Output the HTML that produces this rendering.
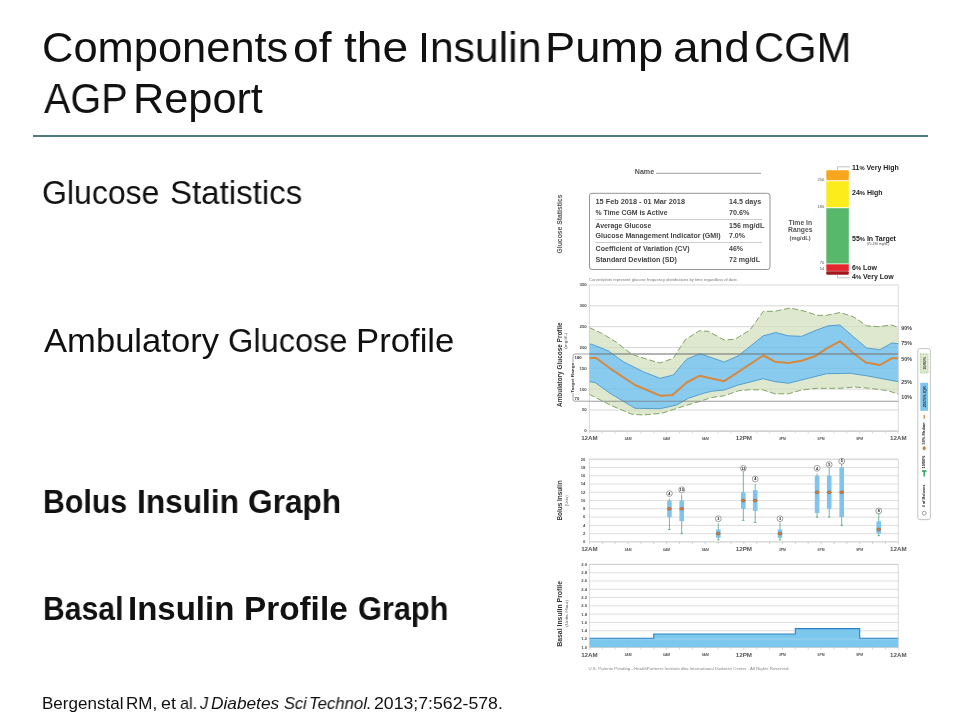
<!DOCTYPE html>
<html><head><meta charset="utf-8">
<style>
html,body{margin:0;padding:0;background:#fff;}
body{width:960px;height:720px;position:relative;overflow:hidden;font-family:"Liberation Sans",sans-serif;color:#111;}
.t{position:absolute;white-space:nowrap;transform-origin:0 0;will-change:transform;}
#rule{position:absolute;left:33px;top:135px;width:895px;height:2px;background:#4d7a7c;}
svg{position:absolute;left:0;top:0;}
svg text{font-family:"Liberation Sans",sans-serif;}
</style></head><body>
<div id="rule"></div>
<div class="t" style="left:42.18px;top:25.6px;font-size:43px;line-height:43px;transform:scaleX(1.0104);">Components</div>
<div class="t" style="left:292.95px;top:25.6px;font-size:43px;line-height:43px;transform:scaleX(1.0737);">of</div>
<div class="t" style="left:343.93px;top:25.6px;font-size:43px;line-height:43px;transform:scaleX(1.0737);">the</div>
<div class="t" style="left:417.83px;top:25.6px;font-size:43px;line-height:43px;transform:scaleX(0.9932);">Insulin</div>
<div class="t" style="left:545.49px;top:25.6px;font-size:43px;line-height:43px;transform:scaleX(1.0514);">Pump</div>
<div class="t" style="left:672.76px;top:25.6px;font-size:43px;line-height:43px;transform:scaleX(1.0701);">and</div>
<div class="t" style="left:754.07px;top:25.6px;font-size:43px;line-height:43px;transform:scaleX(0.9714);">CGM</div>
<div class="t" style="left:43.6px;top:77.1px;font-size:43px;line-height:43px;transform:scaleX(0.9198);">AGP</div>
<div class="t" style="left:132.97px;top:77.1px;font-size:43px;line-height:43px;transform:scaleX(1.0064);">Report</div>
<div class="t" style="left:42.32px;top:174.8px;font-size:34px;line-height:34px;transform:scaleX(0.9413);">Glucose</div>
<div class="t" style="left:170.26px;top:174.8px;font-size:34px;line-height:34px;transform:scaleX(0.9722);">Statistics</div>
<div class="t" style="left:43.5px;top:322.8px;font-size:34px;line-height:34px;transform:scaleX(1.0174);">Ambulatory</div>
<div class="t" style="left:228.38px;top:322.8px;font-size:34px;line-height:34px;transform:scaleX(0.9579);">Glucose</div>
<div class="t" style="left:356.24px;top:322.8px;font-size:34px;line-height:34px;transform:scaleX(1.0207);">Profile</div>
<div class="t" style="left:42.96px;top:484.6px;font-size:33px;line-height:33px;font-weight:bold;transform:scaleX(0.9182);">Bolus</div>
<div class="t" style="left:136.58px;top:484.6px;font-size:33px;line-height:33px;font-weight:bold;transform:scaleX(0.9588);">Insulin</div>
<div class="t" style="left:248.24px;top:484.6px;font-size:33px;line-height:33px;font-weight:bold;transform:scaleX(0.9585);">Graph</div>
<div class="t" style="left:42.57px;top:591.5px;font-size:33px;line-height:33px;font-weight:bold;transform:scaleX(0.9132);">Basal</div>
<div class="t" style="left:127.7px;top:591.5px;font-size:33px;line-height:33px;font-weight:bold;">Insulin</div>
<div class="t" style="left:244.06px;top:591.5px;font-size:33px;line-height:33px;font-weight:bold;transform:scaleX(1.0094);">Profile</div>
<div class="t" style="left:357.57px;top:591.5px;font-size:33px;line-height:33px;font-weight:bold;transform:scaleX(0.9309);">Graph</div>
<div class="t" style="left:42.0px;top:695.0px;font-size:17px;line-height:17px;transform:scaleX(1.0025);">Bergenstal</div>
<div class="t" style="left:125.6px;top:695.0px;font-size:17px;line-height:17px;transform:scaleX(0.9966);">RM,</div>
<div class="t" style="left:160.64px;top:695.0px;font-size:17px;line-height:17px;transform:scaleX(1.0548);">et</div>
<div class="t" style="left:180.46px;top:695.0px;font-size:17px;line-height:17px;transform:scaleX(0.9544);">al.</div>
<div class="t" style="left:200.46px;top:695.0px;font-size:17px;line-height:17px;font-style:italic;transform:scaleX(0.9544);">J</div>
<div class="t" style="left:211.48px;top:695.0px;font-size:17px;line-height:17px;font-style:italic;transform:scaleX(1.0152);">Diabetes</div>
<div class="t" style="left:283.73px;top:695.0px;font-size:17px;line-height:17px;font-style:italic;transform:scaleX(0.9652);">Sci</div>
<div class="t" style="left:308.84px;top:695.0px;font-size:17px;line-height:17px;font-style:italic;transform:scaleX(0.9825);">Technol</div>
<div class="t" style="left:365.86px;top:695.0px;font-size:17px;line-height:17px;transform:scaleX(1.0548);">.</div>
<div class="t" style="left:373.56px;top:695.0px;font-size:17px;line-height:17px;transform:scaleX(1.0405);">2013;7:562-578.</div>
<svg width="960" height="720" viewBox="0 0 960 720" font-family="Liberation Sans, sans-serif">
<text x="634.8" y="173.9" font-size="6.6" font-weight="bold" fill="#555" textLength="19.3" lengthAdjust="spacingAndGlyphs">Name</text>
<line x1="656" y1="173.3" x2="761" y2="173.3" stroke="#777" stroke-width="0.7"/>
<text transform="translate(561.5,224) rotate(-90)" text-anchor="middle" font-size="6.8" font-weight="bold" fill="#555">Glucose Statistics</text>
<rect x="589.5" y="193.3" width="180.5" height="76.2" rx="2.5" fill="none" stroke="#888" stroke-width="0.9"/>
<text x="595.5" y="203.9" font-size="7.2" font-weight="bold" fill="#444" textLength="89.5" lengthAdjust="spacingAndGlyphs">15 Feb 2018 - 01 Mar 2018</text>
<text x="729" y="203.9" font-size="7.2" font-weight="bold" fill="#444" textLength="32.25" lengthAdjust="spacingAndGlyphs">14.5 days</text>
<text x="595.5" y="214.9" font-size="7.2" font-weight="bold" fill="#444" textLength="72" lengthAdjust="spacingAndGlyphs">% Time CGM is Active</text>
<text x="729" y="214.9" font-size="7.2" font-weight="bold" fill="#444" textLength="20.5" lengthAdjust="spacingAndGlyphs">70.6%</text>
<text x="595.5" y="227.9" font-size="7.2" font-weight="bold" fill="#444" textLength="55.75" lengthAdjust="spacingAndGlyphs">Average Glucose</text>
<text x="729" y="227.9" font-size="7.2" font-weight="bold" fill="#444" textLength="35.25" lengthAdjust="spacingAndGlyphs">156 mg/dL</text>
<text x="595.5" y="238.1" font-size="7.2" font-weight="bold" fill="#444" textLength="125" lengthAdjust="spacingAndGlyphs">Glucose Management Indicator (GMI)</text>
<text x="729" y="238.1" font-size="7.2" font-weight="bold" fill="#444" textLength="16" lengthAdjust="spacingAndGlyphs">7.0%</text>
<text x="595.5" y="251.4" font-size="7.2" font-weight="bold" fill="#444" textLength="94" lengthAdjust="spacingAndGlyphs">Coefficient of Variation (CV)</text>
<text x="729" y="251.4" font-size="7.2" font-weight="bold" fill="#444" textLength="14" lengthAdjust="spacingAndGlyphs">46%</text>
<text x="595.5" y="262.4" font-size="7.2" font-weight="bold" fill="#444" textLength="81.5" lengthAdjust="spacingAndGlyphs">Standard Deviation (SD)</text>
<text x="729" y="262.4" font-size="7.2" font-weight="bold" fill="#444" textLength="31" lengthAdjust="spacingAndGlyphs">72 mg/dL</text>
<line x1="595.5" y1="219.5" x2="762" y2="219.5" stroke="#aaa" stroke-width="0.6"/>
<line x1="595.5" y1="242.5" x2="762" y2="242.5" stroke="#aaa" stroke-width="0.6"/>
<text x="589" y="281" font-size="3.4" fill="#777" textLength="149" lengthAdjust="spacingAndGlyphs">Curves/plots represent glucose frequency distributions by time regardless of date.</text>
<rect x="826.3" y="170.3" width="22.5" height="10" fill="#f7a71d" rx="1"/>
<rect x="826.3" y="181.2" width="22.5" height="26" fill="#fdec1c"/>
<rect x="826.3" y="208.2" width="22.5" height="55.3" fill="#57b86b"/>
<rect x="826.3" y="264.3" width="22.5" height="6.6" fill="#e3262d"/>
<rect x="826.3" y="271.3" width="22.5" height="3.5" fill="#a3171d" rx="1"/>
<path d="M837.5 170 V166.8 H850" fill="none" stroke="#999" stroke-width="0.6"/>
<path d="M837.5 274.8 V277.8 H850" fill="none" stroke="#999" stroke-width="0.6"/>
<text x="824.2" y="181.2" font-size="4" fill="#555" text-anchor="end">250</text>
<text x="824.2" y="207.8" font-size="4" fill="#555" text-anchor="end">180</text>
<text x="824.2" y="263.9" font-size="4" fill="#555" text-anchor="end">70</text>
<text x="824.2" y="270.3" font-size="4" fill="#555" text-anchor="end">54</text>
<text x="800.3" y="225.4" font-size="6.5" font-weight="bold" fill="#555" text-anchor="middle" textLength="23.8" lengthAdjust="spacingAndGlyphs">Time In</text>
<text x="800.3" y="231.9" font-size="6.5" font-weight="bold" fill="#555" text-anchor="middle" textLength="24.4" lengthAdjust="spacingAndGlyphs">Ranges</text>
<text x="800.1" y="239.9" font-size="5.4" font-weight="bold" fill="#555" text-anchor="middle" textLength="21.2" lengthAdjust="spacingAndGlyphs">(mg/dL)</text>
<text x="852" y="170.1" font-size="7" font-weight="bold" fill="#222">11<tspan font-size="5.8">%</tspan> Very High</text>
<text x="852" y="194.6" font-size="7" font-weight="bold" fill="#222">24<tspan font-size="5.8">%</tspan> High</text>
<text x="852" y="240.6" font-size="7" font-weight="bold" fill="#222">55<tspan font-size="5.8">%</tspan> In Target</text>
<text x="866.7" y="245.2" font-size="3.3" fill="#555">(70-180 mg/dL)</text>
<text x="852" y="270.1" font-size="7" font-weight="bold" fill="#222">6<tspan font-size="5.8">%</tspan> Low</text>
<text x="852" y="279.3" font-size="7" font-weight="bold" fill="#222">4<tspan font-size="5.8">%</tspan> Very Low</text>
<line x1="589.4" y1="430.8" x2="898.3" y2="430.8" stroke="#dcdcdc" stroke-width="0.9"/>
<text x="586.8" y="432.3" font-size="4.4" font-weight="bold" fill="#4a4a4a" text-anchor="end">0</text>
<line x1="589.4" y1="409.97" x2="898.3" y2="409.97" stroke="#dcdcdc" stroke-width="0.9"/>
<text x="586.8" y="411.47" font-size="4.4" font-weight="bold" fill="#4a4a4a" text-anchor="end">50</text>
<line x1="589.4" y1="389.14" x2="898.3" y2="389.14" stroke="#dcdcdc" stroke-width="0.9"/>
<text x="586.8" y="390.64" font-size="4.4" font-weight="bold" fill="#4a4a4a" text-anchor="end">100</text>
<line x1="589.4" y1="368.31" x2="898.3" y2="368.31" stroke="#dcdcdc" stroke-width="0.9"/>
<text x="586.8" y="369.81" font-size="4.4" font-weight="bold" fill="#4a4a4a" text-anchor="end">150</text>
<line x1="589.4" y1="347.48" x2="898.3" y2="347.48" stroke="#dcdcdc" stroke-width="0.9"/>
<text x="586.8" y="348.98" font-size="4.4" font-weight="bold" fill="#4a4a4a" text-anchor="end">200</text>
<line x1="589.4" y1="326.65" x2="898.3" y2="326.65" stroke="#dcdcdc" stroke-width="0.9"/>
<text x="586.8" y="328.15" font-size="4.4" font-weight="bold" fill="#4a4a4a" text-anchor="end">250</text>
<line x1="589.4" y1="305.82" x2="898.3" y2="305.82" stroke="#dcdcdc" stroke-width="0.9"/>
<text x="586.8" y="307.32" font-size="4.4" font-weight="bold" fill="#4a4a4a" text-anchor="end">300</text>
<line x1="589.4" y1="284.99" x2="898.3" y2="284.99" stroke="#dcdcdc" stroke-width="0.9"/>
<text x="586.8" y="286.49" font-size="4.4" font-weight="bold" fill="#4a4a4a" text-anchor="end">350</text>
<polygon points="589.2,327.5 601.7,333.3 616.7,342.5 631.7,354.2 646.7,359.2 660,363 673.3,358.3 685,340 699.2,330.8 708.3,331.3 715,335 724.2,340 735,339.2 750,330 763.3,311.3 775,311.3 790,308 805,311.3 816.7,315.3 826.7,315.3 840,312.5 853.3,316.7 866.7,325.8 878.3,326.7 891.7,325 898.3,327.5 898.3,394.2 888.3,390.8 870,388.3 855,387 840,388.3 816.7,388.3 801.7,390 788.3,393.8 775,393.8 763.3,390 750,389.7 738.3,390.8 724.2,395.8 711.7,397.5 701.7,400.8 685,405.8 661.7,413.3 643.3,415 631.7,414.2 610,405 589.2,394.2" fill="#dde8cf"/>
<polygon points="589.2,344.2 591.7,344.2 608.3,350.8 623.3,361.7 643.3,371.7 660,378.3 673.3,375 686.7,359.2 700,353.7 724.2,362 738.3,355.8 763.3,335.8 775.8,332.5 788.3,335.8 801.7,336.3 816.7,330 828.3,325.8 840,325 853.3,336.7 866.7,348 880,349.7 891.7,343 898.3,343.7 898.3,381.7 880,378.3 866.7,375.8 850,373.3 826.7,373.7 801.7,380 788.3,383.3 775,381.7 763.3,378.7 738.3,385 724.2,390 711.7,391.3 703.3,393.3 688.3,398.3 676.7,405 660,408.7 635,408.3 610,393.3 595,382.5 589.2,381.7" fill="#89cbef"/>
<line x1="589.4" y1="409.97" x2="898.3" y2="409.97" stroke="#000" stroke-opacity="0.05" stroke-width="0.9"/>
<line x1="589.4" y1="389.14" x2="898.3" y2="389.14" stroke="#000" stroke-opacity="0.05" stroke-width="0.9"/>
<line x1="589.4" y1="368.31" x2="898.3" y2="368.31" stroke="#000" stroke-opacity="0.05" stroke-width="0.9"/>
<line x1="589.4" y1="347.48" x2="898.3" y2="347.48" stroke="#000" stroke-opacity="0.05" stroke-width="0.9"/>
<line x1="589.4" y1="326.65" x2="898.3" y2="326.65" stroke="#000" stroke-opacity="0.05" stroke-width="0.9"/>
<line x1="589.4" y1="305.82" x2="898.3" y2="305.82" stroke="#000" stroke-opacity="0.05" stroke-width="0.9"/>
<line x1="589.4" y1="284.99" x2="898.3" y2="284.99" stroke="#000" stroke-opacity="0.05" stroke-width="0.9"/>
<polyline points="589.2,327.5 601.7,333.3 616.7,342.5 631.7,354.2 646.7,359.2 660,363 673.3,358.3 685,340 699.2,330.8 708.3,331.3 715,335 724.2,340 735,339.2 750,330 763.3,311.3 775,311.3 790,308 805,311.3 816.7,315.3 826.7,315.3 840,312.5 853.3,316.7 866.7,325.8 878.3,326.7 891.7,325 898.3,327.5" fill="none" stroke="#84a366" stroke-width="1" stroke-dasharray="6,2.6"/>
<polyline points="589.2,394.2 610,405 631.7,414.2 643.3,415 661.7,413.3 685,405.8 701.7,400.8 711.7,397.5 724.2,395.8 738.3,390.8 750,389.7 763.3,390 775,393.8 788.3,393.8 801.7,390 816.7,388.3 840,388.3 855,387 870,388.3 888.3,390.8 898.3,394.2" fill="none" stroke="#84a366" stroke-width="1" stroke-dasharray="6,2.6"/>
<polyline points="589.2,344.2 591.7,344.2 608.3,350.8 623.3,361.7 643.3,371.7 660,378.3 673.3,375 686.7,359.2 700,353.7 724.2,362 738.3,355.8 763.3,335.8 775.8,332.5 788.3,335.8 801.7,336.3 816.7,330 828.3,325.8 840,325 853.3,336.7 866.7,348 880,349.7 891.7,343 898.3,343.7" fill="none" stroke="#3f8fc6" stroke-width="0.8"/>
<polyline points="589.2,381.7 595,382.5 610,393.3 635,408.3 660,408.7 676.7,405 688.3,398.3 703.3,393.3 711.7,391.3 724.2,390 738.3,385 763.3,378.7 775,381.7 788.3,383.3 801.7,380 826.7,373.7 850,373.3 866.7,375.8 880,378.3 898.3,381.7" fill="none" stroke="#3f8fc6" stroke-width="0.8"/>
<polyline points="589.2,358.3 595.8,357.8 610,368.3 635,385 660.8,395.8 672.5,395 686.7,382.5 699.2,375.8 724.2,381.2 763.3,355.5 775,361.7 788.3,363 801.7,360.8 815,356.3 826.7,348.3 840,341.3 853.3,353.3 865.8,362.5 880,365 891.7,358.3 898.3,358.3" fill="none" stroke="#d6883f" stroke-width="2" stroke-linejoin="round"/>
<line x1="589.4" y1="285" x2="589.4" y2="431.5" stroke="#c8c8c8" stroke-width="0.7"/>
<line x1="898.3" y1="285" x2="898.3" y2="431.5" stroke="#c8c8c8" stroke-width="0.7"/>
<line x1="589.4" y1="431.3" x2="898.3" y2="431.3" stroke="#bbb" stroke-width="0.8"/>
<line x1="589.4" y1="431.3" x2="589.4" y2="433.6" stroke="#bbb" stroke-width="0.5"/>
<line x1="602.27" y1="431.3" x2="602.27" y2="433.6" stroke="#bbb" stroke-width="0.5"/>
<line x1="615.14" y1="431.3" x2="615.14" y2="433.6" stroke="#bbb" stroke-width="0.5"/>
<line x1="628.01" y1="431.3" x2="628.01" y2="433.6" stroke="#bbb" stroke-width="0.5"/>
<line x1="640.88" y1="431.3" x2="640.88" y2="433.6" stroke="#bbb" stroke-width="0.5"/>
<line x1="653.75" y1="431.3" x2="653.75" y2="433.6" stroke="#bbb" stroke-width="0.5"/>
<line x1="666.62" y1="431.3" x2="666.62" y2="433.6" stroke="#bbb" stroke-width="0.5"/>
<line x1="679.5" y1="431.3" x2="679.5" y2="433.6" stroke="#bbb" stroke-width="0.5"/>
<line x1="692.37" y1="431.3" x2="692.37" y2="433.6" stroke="#bbb" stroke-width="0.5"/>
<line x1="705.24" y1="431.3" x2="705.24" y2="433.6" stroke="#bbb" stroke-width="0.5"/>
<line x1="718.11" y1="431.3" x2="718.11" y2="433.6" stroke="#bbb" stroke-width="0.5"/>
<line x1="730.98" y1="431.3" x2="730.98" y2="433.6" stroke="#bbb" stroke-width="0.5"/>
<line x1="743.85" y1="431.3" x2="743.85" y2="433.6" stroke="#bbb" stroke-width="0.5"/>
<line x1="756.72" y1="431.3" x2="756.72" y2="433.6" stroke="#bbb" stroke-width="0.5"/>
<line x1="769.59" y1="431.3" x2="769.59" y2="433.6" stroke="#bbb" stroke-width="0.5"/>
<line x1="782.46" y1="431.3" x2="782.46" y2="433.6" stroke="#bbb" stroke-width="0.5"/>
<line x1="795.33" y1="431.3" x2="795.33" y2="433.6" stroke="#bbb" stroke-width="0.5"/>
<line x1="808.2" y1="431.3" x2="808.2" y2="433.6" stroke="#bbb" stroke-width="0.5"/>
<line x1="821.07" y1="431.3" x2="821.07" y2="433.6" stroke="#bbb" stroke-width="0.5"/>
<line x1="833.95" y1="431.3" x2="833.95" y2="433.6" stroke="#bbb" stroke-width="0.5"/>
<line x1="846.82" y1="431.3" x2="846.82" y2="433.6" stroke="#bbb" stroke-width="0.5"/>
<line x1="859.69" y1="431.3" x2="859.69" y2="433.6" stroke="#bbb" stroke-width="0.5"/>
<line x1="872.56" y1="431.3" x2="872.56" y2="433.6" stroke="#bbb" stroke-width="0.5"/>
<line x1="885.43" y1="431.3" x2="885.43" y2="433.6" stroke="#bbb" stroke-width="0.5"/>
<line x1="898.3" y1="431.3" x2="898.3" y2="433.6" stroke="#bbb" stroke-width="0.5"/>
<path d="M589.4 354 H575 Q573 354 573 356 V399.2 Q573 401.2 575 401.2 H589.4" fill="none" stroke="#999" stroke-width="0.9"/>
<line x1="589.4" y1="354" x2="898.3" y2="354" stroke="#7a7a7a" stroke-opacity="0.75" stroke-width="1.3"/>
<line x1="589.4" y1="401.2" x2="898.3" y2="401.2" stroke="#7a7a7a" stroke-opacity="0.75" stroke-width="1.1"/>
<rect x="574.2" y="355.6" width="9" height="3.6" fill="#fff"/>
<text x="574.5" y="359.1" font-size="4.3" font-weight="bold" fill="#333">180</text>
<rect x="574.2" y="396.4" width="6" height="3.6" fill="#fff"/>
<text x="574.5" y="399.8" font-size="4.3" font-weight="bold" fill="#333">70</text>
<rect x="570.8" y="362.4" width="4.4" height="30.6" fill="#fff"/>
<text transform="translate(574.2,377.7) rotate(-90)" text-anchor="middle" font-size="4.3" font-weight="bold" fill="#333" textLength="30" lengthAdjust="spacingAndGlyphs">Target Range</text>
<text transform="translate(562.1,364.7) rotate(-90)" text-anchor="middle" font-size="6.8" font-weight="bold" fill="#333" textLength="84.6" lengthAdjust="spacingAndGlyphs">Ambulatory Glucose Profile</text>
<text transform="translate(567.2,340.7) rotate(-90)" text-anchor="middle" font-size="3.6" fill="#555" textLength="16" lengthAdjust="spacingAndGlyphs">(mg/dL)</text>
<text x="901.3" y="329.6" font-size="5" font-weight="bold" fill="#444" textLength="10.6" lengthAdjust="spacingAndGlyphs">90%</text>
<text x="901.3" y="345" font-size="5" font-weight="bold" fill="#444" textLength="10.6" lengthAdjust="spacingAndGlyphs">75%</text>
<text x="901.3" y="360.8" font-size="5" font-weight="bold" fill="#444" textLength="10.6" lengthAdjust="spacingAndGlyphs">50%</text>
<text x="901.3" y="383.9" font-size="5" font-weight="bold" fill="#444" textLength="10.6" lengthAdjust="spacingAndGlyphs">25%</text>
<text x="901.3" y="398.8" font-size="5" font-weight="bold" fill="#444" textLength="10.6" lengthAdjust="spacingAndGlyphs">10%</text>
<text x="589.4" y="440.1" font-size="6.2" font-weight="bold" fill="#555" text-anchor="middle">12AM</text>
<text x="628.01" y="439.5" font-size="3.4" font-weight="bold" fill="#555" text-anchor="middle">3AM</text>
<text x="666.62" y="439.5" font-size="3.4" font-weight="bold" fill="#555" text-anchor="middle">6AM</text>
<text x="705.24" y="439.5" font-size="3.4" font-weight="bold" fill="#555" text-anchor="middle">9AM</text>
<text x="743.85" y="440.1" font-size="6.2" font-weight="bold" fill="#555" text-anchor="middle">12PM</text>
<text x="782.46" y="439.5" font-size="3.4" font-weight="bold" fill="#555" text-anchor="middle">3PM</text>
<text x="821.07" y="439.5" font-size="3.4" font-weight="bold" fill="#555" text-anchor="middle">6PM</text>
<text x="859.69" y="439.5" font-size="3.4" font-weight="bold" fill="#555" text-anchor="middle">9PM</text>
<text x="898.3" y="440.1" font-size="6.2" font-weight="bold" fill="#555" text-anchor="middle">12AM</text>
<rect x="917.8" y="348.6" width="12.6" height="171" rx="2" fill="#fff" stroke="#aaa" stroke-width="0.7"/>
<rect x="920.3" y="353.8" width="7.8" height="19.2" fill="#dde8cf" stroke="#8cb864" stroke-width="0.6" stroke-dasharray="1.5,1"/>
<text transform="translate(925.8,363.4) rotate(-90)" text-anchor="middle" font-size="3.8" font-weight="bold" fill="#444">10/90%</text>
<rect x="920.3" y="382.8" width="7.8" height="28" fill="#7ec4ec"/>
<text transform="translate(925.8,396.8) rotate(-90)" text-anchor="middle" font-size="3.8" font-weight="bold" fill="#234">25/75%-IQR</text>
<line x1="924.2" y1="415" x2="924.2" y2="418.8" stroke="#d9813a" stroke-width="1.3"/>
<text transform="translate(925.4,433.5) rotate(-90)" text-anchor="middle" font-size="3.8" font-weight="bold" fill="#222">50%-Median</text>
<ellipse cx="924.2" cy="448.3" rx="1.3" ry="1.8" fill="#d9813a" stroke="#a85d22" stroke-width="0.4"/>
<text transform="translate(925.4,462) rotate(-90)" text-anchor="middle" font-size="3.8" font-weight="bold" fill="#222">10/90%</text>
<path d="M924.2 470.4 V476.6 M922 471 H926.4" stroke="#2a955a" stroke-width="1.4" fill="none"/>
<text transform="translate(925.4,496) rotate(-90)" text-anchor="middle" font-size="3.8" font-weight="bold" fill="#222"># of Boluses</text>
<circle cx="924.2" cy="513.2" r="2" fill="#fff" stroke="#777" stroke-width="0.7"/>
<line x1="589.4" y1="541.9" x2="898.3" y2="541.9" stroke="#bbb" stroke-width="0.8"/>
<text x="585.4" y="543.3" font-size="4.1" font-weight="bold" fill="#4a4a4a" text-anchor="end">0</text>
<line x1="589.4" y1="533.63" x2="898.3" y2="533.63" stroke="#d6d6d6" stroke-width="0.8"/>
<text x="585.4" y="535.03" font-size="4.1" font-weight="bold" fill="#4a4a4a" text-anchor="end">2</text>
<line x1="589.4" y1="525.36" x2="898.3" y2="525.36" stroke="#d6d6d6" stroke-width="0.8"/>
<text x="585.4" y="526.76" font-size="4.1" font-weight="bold" fill="#4a4a4a" text-anchor="end">4</text>
<line x1="589.4" y1="517.09" x2="898.3" y2="517.09" stroke="#d6d6d6" stroke-width="0.8"/>
<text x="585.4" y="518.49" font-size="4.1" font-weight="bold" fill="#4a4a4a" text-anchor="end">6</text>
<line x1="589.4" y1="508.82" x2="898.3" y2="508.82" stroke="#d6d6d6" stroke-width="0.8"/>
<text x="585.4" y="510.22" font-size="4.1" font-weight="bold" fill="#4a4a4a" text-anchor="end">8</text>
<line x1="589.4" y1="500.55" x2="898.3" y2="500.55" stroke="#d6d6d6" stroke-width="0.8"/>
<text x="585.4" y="501.95" font-size="4.1" font-weight="bold" fill="#4a4a4a" text-anchor="end">10</text>
<line x1="589.4" y1="492.28" x2="898.3" y2="492.28" stroke="#d6d6d6" stroke-width="0.8"/>
<text x="585.4" y="493.68" font-size="4.1" font-weight="bold" fill="#4a4a4a" text-anchor="end">12</text>
<line x1="589.4" y1="484.01" x2="898.3" y2="484.01" stroke="#d6d6d6" stroke-width="0.8"/>
<text x="585.4" y="485.41" font-size="4.1" font-weight="bold" fill="#4a4a4a" text-anchor="end">14</text>
<line x1="589.4" y1="475.74" x2="898.3" y2="475.74" stroke="#d6d6d6" stroke-width="0.8"/>
<text x="585.4" y="477.14" font-size="4.1" font-weight="bold" fill="#4a4a4a" text-anchor="end">16</text>
<line x1="589.4" y1="467.47" x2="898.3" y2="467.47" stroke="#d6d6d6" stroke-width="0.8"/>
<text x="585.4" y="468.87" font-size="4.1" font-weight="bold" fill="#4a4a4a" text-anchor="end">18</text>
<line x1="589.4" y1="459.2" x2="898.3" y2="459.2" stroke="#bbb" stroke-width="0.8"/>
<text x="585.4" y="460.6" font-size="4.1" font-weight="bold" fill="#4a4a4a" text-anchor="end">20</text>
<line x1="589.4" y1="459.2" x2="589.4" y2="541.9" stroke="#c8c8c8" stroke-width="0.7"/>
<line x1="898.3" y1="459.2" x2="898.3" y2="541.9" stroke="#c8c8c8" stroke-width="0.7"/>
<line x1="589.4" y1="541.9" x2="589.4" y2="544.1" stroke="#aaa" stroke-width="0.5"/>
<line x1="602.27" y1="541.9" x2="602.27" y2="544.1" stroke="#aaa" stroke-width="0.5"/>
<line x1="615.14" y1="541.9" x2="615.14" y2="544.1" stroke="#aaa" stroke-width="0.5"/>
<line x1="628.01" y1="541.9" x2="628.01" y2="544.1" stroke="#aaa" stroke-width="0.5"/>
<line x1="640.88" y1="541.9" x2="640.88" y2="544.1" stroke="#aaa" stroke-width="0.5"/>
<line x1="653.75" y1="541.9" x2="653.75" y2="544.1" stroke="#aaa" stroke-width="0.5"/>
<line x1="666.62" y1="541.9" x2="666.62" y2="544.1" stroke="#aaa" stroke-width="0.5"/>
<line x1="679.5" y1="541.9" x2="679.5" y2="544.1" stroke="#aaa" stroke-width="0.5"/>
<line x1="692.37" y1="541.9" x2="692.37" y2="544.1" stroke="#aaa" stroke-width="0.5"/>
<line x1="705.24" y1="541.9" x2="705.24" y2="544.1" stroke="#aaa" stroke-width="0.5"/>
<line x1="718.11" y1="541.9" x2="718.11" y2="544.1" stroke="#aaa" stroke-width="0.5"/>
<line x1="730.98" y1="541.9" x2="730.98" y2="544.1" stroke="#aaa" stroke-width="0.5"/>
<line x1="743.85" y1="541.9" x2="743.85" y2="544.1" stroke="#aaa" stroke-width="0.5"/>
<line x1="756.72" y1="541.9" x2="756.72" y2="544.1" stroke="#aaa" stroke-width="0.5"/>
<line x1="769.59" y1="541.9" x2="769.59" y2="544.1" stroke="#aaa" stroke-width="0.5"/>
<line x1="782.46" y1="541.9" x2="782.46" y2="544.1" stroke="#aaa" stroke-width="0.5"/>
<line x1="795.33" y1="541.9" x2="795.33" y2="544.1" stroke="#aaa" stroke-width="0.5"/>
<line x1="808.2" y1="541.9" x2="808.2" y2="544.1" stroke="#aaa" stroke-width="0.5"/>
<line x1="821.07" y1="541.9" x2="821.07" y2="544.1" stroke="#aaa" stroke-width="0.5"/>
<line x1="833.95" y1="541.9" x2="833.95" y2="544.1" stroke="#aaa" stroke-width="0.5"/>
<line x1="846.82" y1="541.9" x2="846.82" y2="544.1" stroke="#aaa" stroke-width="0.5"/>
<line x1="859.69" y1="541.9" x2="859.69" y2="544.1" stroke="#aaa" stroke-width="0.5"/>
<line x1="872.56" y1="541.9" x2="872.56" y2="544.1" stroke="#aaa" stroke-width="0.5"/>
<line x1="885.43" y1="541.9" x2="885.43" y2="544.1" stroke="#aaa" stroke-width="0.5"/>
<line x1="898.3" y1="541.9" x2="898.3" y2="544.1" stroke="#aaa" stroke-width="0.5"/>
<line x1="669.4" y1="529.5" x2="669.4" y2="498.48" stroke="#3a9a6a" stroke-width="0.7"/>
<line x1="668.2" y1="529.5" x2="670.6" y2="529.5" stroke="#3a9a6a" stroke-width="0.7"/>
<rect x="667.1" y="500.55" width="4.6" height="16.54" fill="#7ec4ec"/>
<ellipse cx="669.4" cy="508.82" rx="2" ry="1.35" fill="#d9813a" stroke="#8a5020" stroke-width="0.5"/>
<circle cx="669.4" cy="493.52" r="2.9" fill="#fff" stroke="#444" stroke-width="0.5"/>
<text x="669.4" y="494.72" font-size="3.8" font-weight="bold" fill="#222" text-anchor="middle">4</text>
<line x1="681.7" y1="533.63" x2="681.7" y2="494.35" stroke="#3a9a6a" stroke-width="0.7"/>
<line x1="680.5" y1="533.63" x2="682.9" y2="533.63" stroke="#3a9a6a" stroke-width="0.7"/>
<rect x="679.4" y="500.55" width="4.6" height="20.68" fill="#7ec4ec"/>
<ellipse cx="681.7" cy="508.82" rx="2" ry="1.35" fill="#d9813a" stroke="#8a5020" stroke-width="0.5"/>
<circle cx="681.7" cy="489.8" r="2.9" fill="#fff" stroke="#444" stroke-width="0.5"/>
<text x="681.7" y="491" font-size="3.8" font-weight="bold" fill="#222" text-anchor="middle">10</text>
<line x1="718.3" y1="539.83" x2="718.3" y2="523.29" stroke="#3a9a6a" stroke-width="0.7"/>
<line x1="717.1" y1="539.83" x2="719.5" y2="539.83" stroke="#3a9a6a" stroke-width="0.7"/>
<rect x="716" y="529.5" width="4.6" height="8.27" fill="#7ec4ec"/>
<ellipse cx="718.3" cy="533.63" rx="2" ry="1.35" fill="#d9813a" stroke="#8a5020" stroke-width="0.5"/>
<circle cx="718.3" cy="518.74" r="2.9" fill="#fff" stroke="#444" stroke-width="0.5"/>
<text x="718.3" y="519.94" font-size="3.8" font-weight="bold" fill="#222" text-anchor="middle">3</text>
<line x1="743.3" y1="520.4" x2="743.3" y2="471.6" stroke="#3a9a6a" stroke-width="0.7"/>
<line x1="742.1" y1="520.4" x2="744.5" y2="520.4" stroke="#3a9a6a" stroke-width="0.7"/>
<rect x="741" y="492.28" width="4.6" height="16.54" fill="#7ec4ec"/>
<ellipse cx="743.3" cy="500.55" rx="2" ry="1.35" fill="#d9813a" stroke="#8a5020" stroke-width="0.5"/>
<circle cx="743.3" cy="468.3" r="2.9" fill="#fff" stroke="#444" stroke-width="0.5"/>
<text x="743.3" y="469.5" font-size="3.8" font-weight="bold" fill="#222" text-anchor="middle">12</text>
<line x1="755.2" y1="522.47" x2="755.2" y2="484.01" stroke="#3a9a6a" stroke-width="0.7"/>
<line x1="754" y1="522.47" x2="756.4" y2="522.47" stroke="#3a9a6a" stroke-width="0.7"/>
<rect x="752.9" y="490.21" width="4.6" height="20.68" fill="#7ec4ec"/>
<ellipse cx="755.2" cy="500.55" rx="2" ry="1.35" fill="#d9813a" stroke="#8a5020" stroke-width="0.5"/>
<circle cx="755.2" cy="479.05" r="2.9" fill="#fff" stroke="#444" stroke-width="0.5"/>
<text x="755.2" y="480.25" font-size="3.8" font-weight="bold" fill="#222" text-anchor="middle">4</text>
<line x1="780" y1="539.83" x2="780" y2="522.47" stroke="#3a9a6a" stroke-width="0.7"/>
<line x1="778.8" y1="539.83" x2="781.2" y2="539.83" stroke="#3a9a6a" stroke-width="0.7"/>
<rect x="777.7" y="529.5" width="4.6" height="8.27" fill="#7ec4ec"/>
<ellipse cx="780" cy="533.63" rx="2" ry="1.35" fill="#d9813a" stroke="#8a5020" stroke-width="0.5"/>
<circle cx="780" cy="518.74" r="2.9" fill="#fff" stroke="#444" stroke-width="0.5"/>
<text x="780" y="519.94" font-size="3.8" font-weight="bold" fill="#222" text-anchor="middle">3</text>
<line x1="817.1" y1="517.09" x2="817.1" y2="473.67" stroke="#3a9a6a" stroke-width="0.7"/>
<line x1="815.9" y1="517.09" x2="818.3" y2="517.09" stroke="#3a9a6a" stroke-width="0.7"/>
<rect x="814.8" y="475.74" width="4.6" height="37.21" fill="#7ec4ec"/>
<ellipse cx="817.1" cy="492.28" rx="2" ry="1.35" fill="#d9813a" stroke="#8a5020" stroke-width="0.5"/>
<circle cx="817.1" cy="468.3" r="2.9" fill="#fff" stroke="#444" stroke-width="0.5"/>
<text x="817.1" y="469.5" font-size="3.8" font-weight="bold" fill="#222" text-anchor="middle">4</text>
<line x1="829.2" y1="517.09" x2="829.2" y2="467.47" stroke="#3a9a6a" stroke-width="0.7"/>
<line x1="828" y1="517.09" x2="830.4" y2="517.09" stroke="#3a9a6a" stroke-width="0.7"/>
<rect x="826.9" y="475.74" width="4.6" height="33.08" fill="#7ec4ec"/>
<ellipse cx="829.2" cy="492.28" rx="2" ry="1.35" fill="#d9813a" stroke="#8a5020" stroke-width="0.5"/>
<circle cx="829.2" cy="464.58" r="2.9" fill="#fff" stroke="#444" stroke-width="0.5"/>
<text x="829.2" y="465.78" font-size="3.8" font-weight="bold" fill="#222" text-anchor="middle">5</text>
<line x1="841.7" y1="525.36" x2="841.7" y2="463.33" stroke="#3a9a6a" stroke-width="0.7"/>
<line x1="840.5" y1="525.36" x2="842.9" y2="525.36" stroke="#3a9a6a" stroke-width="0.7"/>
<rect x="839.4" y="467.47" width="4.6" height="49.62" fill="#7ec4ec"/>
<ellipse cx="841.7" cy="492.28" rx="2" ry="1.35" fill="#d9813a" stroke="#8a5020" stroke-width="0.5"/>
<circle cx="841.7" cy="461.27" r="2.9" fill="#fff" stroke="#444" stroke-width="0.5"/>
<text x="841.7" y="462.47" font-size="3.8" font-weight="bold" fill="#222" text-anchor="middle">5</text>
<line x1="878.75" y1="535.7" x2="878.75" y2="512.95" stroke="#3a9a6a" stroke-width="0.7"/>
<line x1="877.55" y1="535.7" x2="879.95" y2="535.7" stroke="#3a9a6a" stroke-width="0.7"/>
<rect x="876.45" y="521.23" width="4.6" height="12.4" fill="#7ec4ec"/>
<ellipse cx="878.75" cy="529.5" rx="2" ry="1.35" fill="#d9813a" stroke="#8a5020" stroke-width="0.5"/>
<circle cx="878.75" cy="510.89" r="2.9" fill="#fff" stroke="#444" stroke-width="0.5"/>
<text x="878.75" y="512.09" font-size="3.8" font-weight="bold" fill="#222" text-anchor="middle">8</text>
<text transform="translate(561.8,500.5) rotate(-90)" text-anchor="middle" font-size="6.4" font-weight="bold" fill="#333">Bolus Insulin</text>
<text transform="translate(567.8,500.7) rotate(-90)" text-anchor="middle" font-size="3.6" fill="#555">(Units)</text>
<text x="589.4" y="551.1" font-size="6.2" font-weight="bold" fill="#555" text-anchor="middle">12AM</text>
<text x="628.01" y="550.5" font-size="3.4" font-weight="bold" fill="#555" text-anchor="middle">3AM</text>
<text x="666.62" y="550.5" font-size="3.4" font-weight="bold" fill="#555" text-anchor="middle">6AM</text>
<text x="705.24" y="550.5" font-size="3.4" font-weight="bold" fill="#555" text-anchor="middle">9AM</text>
<text x="743.85" y="551.1" font-size="6.2" font-weight="bold" fill="#555" text-anchor="middle">12PM</text>
<text x="782.46" y="550.5" font-size="3.4" font-weight="bold" fill="#555" text-anchor="middle">3PM</text>
<text x="821.07" y="550.5" font-size="3.4" font-weight="bold" fill="#555" text-anchor="middle">6PM</text>
<text x="859.69" y="550.5" font-size="3.4" font-weight="bold" fill="#555" text-anchor="middle">9PM</text>
<text x="898.3" y="551.1" font-size="6.2" font-weight="bold" fill="#555" text-anchor="middle">12AM</text>
<line x1="589.4" y1="647.3" x2="898.3" y2="647.3" stroke="#bbb" stroke-width="0.8"/>
<text x="587" y="648.7" font-size="4.1" font-weight="bold" fill="#4a4a4a" text-anchor="end">1.0</text>
<line x1="589.4" y1="639.01" x2="898.3" y2="639.01" stroke="#d6d6d6" stroke-width="0.8"/>
<text x="587" y="640.41" font-size="4.1" font-weight="bold" fill="#4a4a4a" text-anchor="end">1.2</text>
<line x1="589.4" y1="630.72" x2="898.3" y2="630.72" stroke="#d6d6d6" stroke-width="0.8"/>
<text x="587" y="632.12" font-size="4.1" font-weight="bold" fill="#4a4a4a" text-anchor="end">1.4</text>
<line x1="589.4" y1="622.43" x2="898.3" y2="622.43" stroke="#d6d6d6" stroke-width="0.8"/>
<text x="587" y="623.83" font-size="4.1" font-weight="bold" fill="#4a4a4a" text-anchor="end">1.6</text>
<line x1="589.4" y1="614.14" x2="898.3" y2="614.14" stroke="#d6d6d6" stroke-width="0.8"/>
<text x="587" y="615.54" font-size="4.1" font-weight="bold" fill="#4a4a4a" text-anchor="end">1.8</text>
<line x1="589.4" y1="605.85" x2="898.3" y2="605.85" stroke="#d6d6d6" stroke-width="0.8"/>
<text x="587" y="607.25" font-size="4.1" font-weight="bold" fill="#4a4a4a" text-anchor="end">2.0</text>
<line x1="589.4" y1="597.56" x2="898.3" y2="597.56" stroke="#d6d6d6" stroke-width="0.8"/>
<text x="587" y="598.96" font-size="4.1" font-weight="bold" fill="#4a4a4a" text-anchor="end">2.2</text>
<line x1="589.4" y1="589.27" x2="898.3" y2="589.27" stroke="#d6d6d6" stroke-width="0.8"/>
<text x="587" y="590.67" font-size="4.1" font-weight="bold" fill="#4a4a4a" text-anchor="end">2.4</text>
<line x1="589.4" y1="580.98" x2="898.3" y2="580.98" stroke="#d6d6d6" stroke-width="0.8"/>
<text x="587" y="582.38" font-size="4.1" font-weight="bold" fill="#4a4a4a" text-anchor="end">2.6</text>
<line x1="589.4" y1="572.69" x2="898.3" y2="572.69" stroke="#d6d6d6" stroke-width="0.8"/>
<text x="587" y="574.09" font-size="4.1" font-weight="bold" fill="#4a4a4a" text-anchor="end">2.8</text>
<line x1="589.4" y1="564.4" x2="898.3" y2="564.4" stroke="#bbb" stroke-width="0.8"/>
<text x="587" y="565.8" font-size="4.1" font-weight="bold" fill="#4a4a4a" text-anchor="end">3.0</text>
<path d="M589.4 647.3 L589.4 638.18 L653.75 638.18 L653.75 634.04 L795.33 634.04 L795.33 628.65 L859.69 628.65 L859.69 638.18 L898.3 638.18 L898.3 647.3 Z" fill="#7cc7ec"/>
<line x1="589.4" y1="639.01" x2="898.3" y2="639.01" stroke="#ffffff" stroke-opacity="0.3" stroke-width="0.8"/>
<path d="M589.4 638.18 H653.75 V634.04 H795.33 V628.65 H859.69 V638.18 H898.3 " fill="none" stroke="#2a83bd" stroke-width="1.1"/>
<line x1="589.4" y1="564.4" x2="589.4" y2="647.3" stroke="#c8c8c8" stroke-width="0.7"/>
<line x1="898.3" y1="564.4" x2="898.3" y2="647.3" stroke="#c8c8c8" stroke-width="0.7"/>
<line x1="589.4" y1="647.3" x2="589.4" y2="649.5" stroke="#aaa" stroke-width="0.5"/>
<line x1="602.27" y1="647.3" x2="602.27" y2="649.5" stroke="#aaa" stroke-width="0.5"/>
<line x1="615.14" y1="647.3" x2="615.14" y2="649.5" stroke="#aaa" stroke-width="0.5"/>
<line x1="628.01" y1="647.3" x2="628.01" y2="649.5" stroke="#aaa" stroke-width="0.5"/>
<line x1="640.88" y1="647.3" x2="640.88" y2="649.5" stroke="#aaa" stroke-width="0.5"/>
<line x1="653.75" y1="647.3" x2="653.75" y2="649.5" stroke="#aaa" stroke-width="0.5"/>
<line x1="666.62" y1="647.3" x2="666.62" y2="649.5" stroke="#aaa" stroke-width="0.5"/>
<line x1="679.5" y1="647.3" x2="679.5" y2="649.5" stroke="#aaa" stroke-width="0.5"/>
<line x1="692.37" y1="647.3" x2="692.37" y2="649.5" stroke="#aaa" stroke-width="0.5"/>
<line x1="705.24" y1="647.3" x2="705.24" y2="649.5" stroke="#aaa" stroke-width="0.5"/>
<line x1="718.11" y1="647.3" x2="718.11" y2="649.5" stroke="#aaa" stroke-width="0.5"/>
<line x1="730.98" y1="647.3" x2="730.98" y2="649.5" stroke="#aaa" stroke-width="0.5"/>
<line x1="743.85" y1="647.3" x2="743.85" y2="649.5" stroke="#aaa" stroke-width="0.5"/>
<line x1="756.72" y1="647.3" x2="756.72" y2="649.5" stroke="#aaa" stroke-width="0.5"/>
<line x1="769.59" y1="647.3" x2="769.59" y2="649.5" stroke="#aaa" stroke-width="0.5"/>
<line x1="782.46" y1="647.3" x2="782.46" y2="649.5" stroke="#aaa" stroke-width="0.5"/>
<line x1="795.33" y1="647.3" x2="795.33" y2="649.5" stroke="#aaa" stroke-width="0.5"/>
<line x1="808.2" y1="647.3" x2="808.2" y2="649.5" stroke="#aaa" stroke-width="0.5"/>
<line x1="821.07" y1="647.3" x2="821.07" y2="649.5" stroke="#aaa" stroke-width="0.5"/>
<line x1="833.95" y1="647.3" x2="833.95" y2="649.5" stroke="#aaa" stroke-width="0.5"/>
<line x1="846.82" y1="647.3" x2="846.82" y2="649.5" stroke="#aaa" stroke-width="0.5"/>
<line x1="859.69" y1="647.3" x2="859.69" y2="649.5" stroke="#aaa" stroke-width="0.5"/>
<line x1="872.56" y1="647.3" x2="872.56" y2="649.5" stroke="#aaa" stroke-width="0.5"/>
<line x1="885.43" y1="647.3" x2="885.43" y2="649.5" stroke="#aaa" stroke-width="0.5"/>
<line x1="898.3" y1="647.3" x2="898.3" y2="649.5" stroke="#aaa" stroke-width="0.5"/>
<text transform="translate(562.1,613.9) rotate(-90)" text-anchor="middle" font-size="6.6" font-weight="bold" fill="#333" textLength="65.7" lengthAdjust="spacingAndGlyphs">Basal Insulin Profile</text>
<text transform="translate(567.9,613.3) rotate(-90)" text-anchor="middle" font-size="3.6" fill="#555" textLength="27" lengthAdjust="spacingAndGlyphs">(Units /Hour)</text>
<text x="589.4" y="656.7" font-size="6.2" font-weight="bold" fill="#555" text-anchor="middle">12AM</text>
<text x="628.01" y="656.1" font-size="3.4" font-weight="bold" fill="#555" text-anchor="middle">3AM</text>
<text x="666.62" y="656.1" font-size="3.4" font-weight="bold" fill="#555" text-anchor="middle">6AM</text>
<text x="705.24" y="656.1" font-size="3.4" font-weight="bold" fill="#555" text-anchor="middle">9AM</text>
<text x="743.85" y="656.7" font-size="6.2" font-weight="bold" fill="#555" text-anchor="middle">12PM</text>
<text x="782.46" y="656.1" font-size="3.4" font-weight="bold" fill="#555" text-anchor="middle">3PM</text>
<text x="821.07" y="656.1" font-size="3.4" font-weight="bold" fill="#555" text-anchor="middle">6PM</text>
<text x="859.69" y="656.1" font-size="3.4" font-weight="bold" fill="#555" text-anchor="middle">9PM</text>
<text x="898.3" y="656.7" font-size="6.2" font-weight="bold" fill="#555" text-anchor="middle">12AM</text>
<text x="588.5" y="670.4" font-size="3.4" fill="#888" textLength="200" lengthAdjust="spacingAndGlyphs">U.S. Patents Pending - HealthPartners Institute dba International Diabetes Center - All Rights Reserved</text>
</svg>
</body></html>
